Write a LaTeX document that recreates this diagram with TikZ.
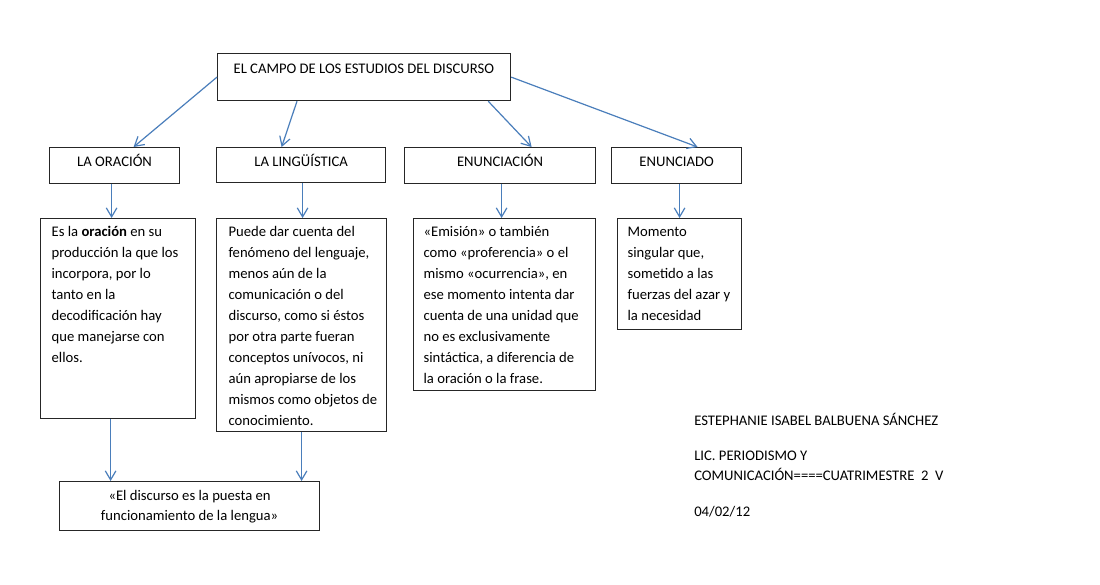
\documentclass[tikz,border=0pt]{standalone}
\usepackage{fontspec}
\setmainfont{Carlito}
\usetikzlibrary{arrows.meta,calc}
\definecolor{arrblue}{RGB}{74,126,187}
% width, height, first baseline, left pad, content
\newcommand\lbox[5]{\begin{minipage}[t][#2][t]{#1}\raggedright\leftskip=#4\relax\rule{0pt}{#3}#5\end{minipage}}
\newcommand\cbox[4]{\begin{minipage}[t][#2][t]{#1}\centering\rule{0pt}{#3}#4\end{minipage}}
\begin{document}
\begin{tikzpicture}[x=0.75pt,y=-0.75pt,
  box/.style={draw=black!85, line width=0.9pt, inner sep=0pt, anchor=north west,
    font=\fontsize{11pt}{15.75pt}\selectfont},
  arr/.style={draw=arrblue, line width=0.9pt, -{Straight Barb[length=6.75pt,width=8pt]}},
  note/.style={anchor=base west, inner sep=0pt, font=\fontsize{11pt}{15pt}\selectfont}]
\fill[white] (0,0) rectangle (1100,585);
\path[use as bounding box] (0,0) rectangle (1100,585);

\node[box] (top) at (217,53) {\lbox{219.75pt}{35.25pt}{15pt}{12pt}{EL CAMPO DE LOS ESTUDIOS DEL DISCURSO}};

\node[box] (orac) at (49,147) {\cbox{97.5pt}{27pt}{14.25pt}{LA ORACIÓN}};
\node[box] (ling) at (216,147) {\cbox{126.75pt}{26.25pt}{14.25pt}{LA LINGÜÍSTICA}};
\node[box] (enci) at (404,147) {\cbox{143.25pt}{27pt}{14.25pt}{ENUNCIACIÓN}};
\node[box] (endo) at (611,147) {\cbox{97.5pt}{27pt}{14.25pt}{ENUNCIADO}};

\node[box] (d1) at (40,218) {\lbox{116.25pt}{150pt}{13.5pt}{8.25pt}{Es la \textbf{oración} en su\\ producción la que los\\ incorpora, por lo\\ tanto en la\\ decodificación hay\\ que manejarse con\\ ellos.}};
\node[box] (d2) at (216,218) {\lbox{127.5pt}{159.75pt}{13.5pt}{9pt}{Puede dar cuenta del\\ fenómeno del lenguaje,\\ menos aún de la\\ comunicación o del\\ discurso, como si éstos\\ por otra parte fueran\\ conceptos unívocos, ni\\ aún apropiarse de los\\ mismos como objetos de\\ conocimiento.}};
\node[box] (d3) at (413,218) {\lbox{136.5pt}{129pt}{13.5pt}{7.5pt}{«Emisión» o también\\ como «proferencia» o el\\ mismo «ocurrencia», en\\ ese momento intenta dar\\ cuenta de una unidad que\\ no es exclusivamente\\ sintáctica, a diferencia de\\ la oración o la frase.}};
\node[box] (d4) at (617,218) {\lbox{93pt}{83.25pt}{13.5pt}{7.5pt}{Momento\\ singular que,\\ sometido a las\\ fuerzas del azar y\\ la necesidad}};

\node[box, font=\fontsize{11pt}{15pt}\selectfont] (bot) at (59,481) {\cbox{195pt}{36.75pt}{14.25pt}{«El discurso es la puesta en\\ funcionamiento de la lengua»}};

\node[note] (n1) at (694,425) {ESTEPHANIE ISABEL BALBUENA SÁNCHEZ};
\node[note] (n2) at (694,460) {LIC. PERIODISMO Y};
\node[note] (n3) at (694,480) {COMUNICACIÓN====CUATRIMESTRE\ \ 2\ \ V};
\node[note] (n4) at (694,516) {04/02/12};

\draw[arr] (top.west) -- ($(orac.north)+(19,0)$);
\draw[arr] ($(top.south west)+(80,0)$) -- ($(ling.north)+(-19.5,0)$);
\draw[arr] ($(top.south east)+(-23,0)$) -- ($(enci.north)+(31.5,0)$);
\draw[arr] (top.east) -- ($(endo.north)+(21,0)$);

\coordinate (s1) at ($(orac.south)+(-3,0)$);
\coordinate (s2) at ($(ling.south)+(1.5,0)$);
\coordinate (s3) at ($(enci.south)+(1.5,0)$);
\coordinate (s4) at ($(endo.south)+(3,0)$);
\draw[arr] (s1) -- (s1 |- d1.north);
\draw[arr] (s2) -- (s2 |- d2.north);
\draw[arr] (s3) -- (s3 |- d3.north);
\draw[arr] (s4) -- (s4 |- d4.north);

\coordinate (b1) at ($(d1.south)+(-7.5,0)$);
\coordinate (b2) at (d2.south);
\draw[arr] (b1) -- (b1 |- bot.north);
\draw[arr] (b2) -- (b2 |- bot.north);
\end{tikzpicture}
\end{document}
